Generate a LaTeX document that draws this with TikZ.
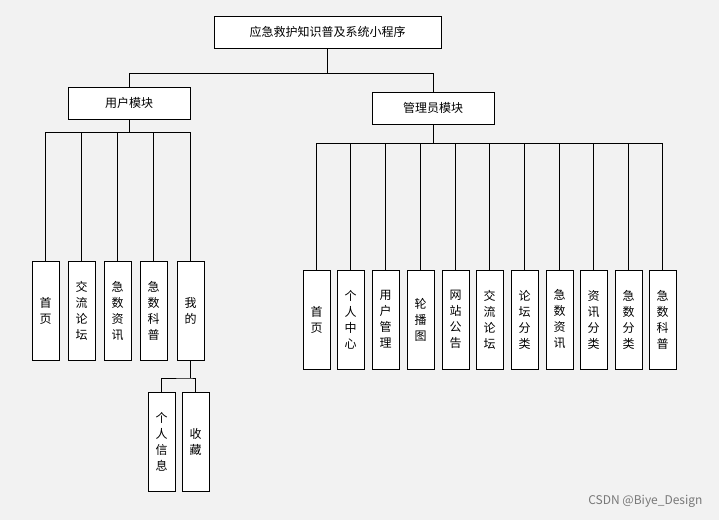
\documentclass[tikz,border=0pt]{standalone}
\usepackage{fontspec}
\newfontfamily\cjk{Noto Sans CJK SC}
\begin{document}
\begin{tikzpicture}[x=1pt,y=-1pt,
  box/.style={draw=black,fill=white,line width=0.8pt,inner sep=0pt,font=\cjk\fontsize{12}{16}\selectfont},
  hbox/.style={box,minimum height=32pt},
  vbox/.style={box,minimum width=27pt,minimum height=99pt,align=center},
  ln/.style={line width=0.8pt}]
\fill[fill={rgb,255:red,242;green,242;blue,242}] (0,0) rectangle (719,520);
\useasboundingbox (0,0) rectangle (719,520);
\node[hbox,minimum width=227pt] (root) at (327.5,32) {应急救护知识普及系统小程序};
\node[hbox,minimum width=122pt] (user) at (129,103) {用户模块};
\node[hbox,minimum width=122pt] (admin) at (433,108) {管理员模块};
\draw[ln] (root.south) -- ++(0,25) coordinate (j1);
\draw[ln] (user.north) |- (j1) -| (admin.north);
% user children
\coordinate (ub) at (129,132);
\draw[ln] (user.south) -- (ub);
\foreach \n/\x/\t in {u1/45.5/首\\页,u2/81.5/交\\流\\论\\坛,u3/117.5/急\\数\\资\\讯,u4/153.5/急\\数\\科\\普,u5/190.5/我\\的}{
  \node[vbox] (\n) at (\x,311) {\t};
  \draw[ln] (\n.north) -- (\x,132);
}
\draw[ln] (45.5,132) -- (190.5,132);
\node[vbox] (m1) at (161.5,442) {个\\人\\信\\息};
\node[vbox] (m2) at (195.5,442) {收\\藏};
\draw[ln] (u5.south) -- (190.5,378);
\draw[ln] (m1.north) |- (190.5,378) -| (m2.north);
% admin children
\draw[ln] (admin.south) -- (433,143);
\foreach \n/\x/\t in {a1/316.5/首\\页,a2/350.5/个\\人\\中\\心,a3/385.5/用\\户\\管\\理,a4/420.5/轮\\播\\图,a5/455.5/网\\站\\公\\告,a6/489.5/交\\流\\论\\坛,a7/524.5/论\\坛\\分\\类,a8/559.5/急\\数\\资\\讯,a9/593.5/资\\讯\\分\\类,a10/628.5/急\\数\\分\\类,a11/662.5/急\\数\\科\\普}{
  \node[vbox] (\n) at (\x,319.5) {\t};
  \draw[ln] (\n.north) -- (\x,143);
}
\draw[ln] (316.5,143) -- (662.5,143);
\node[font=\cjk\fontsize{12}{14}\selectfont,text={rgb,255:red,120;green,120;blue,120},anchor=east] (wm) at (706,501) {CSDN @Biye\_Design};
\end{tikzpicture}
\end{document}
